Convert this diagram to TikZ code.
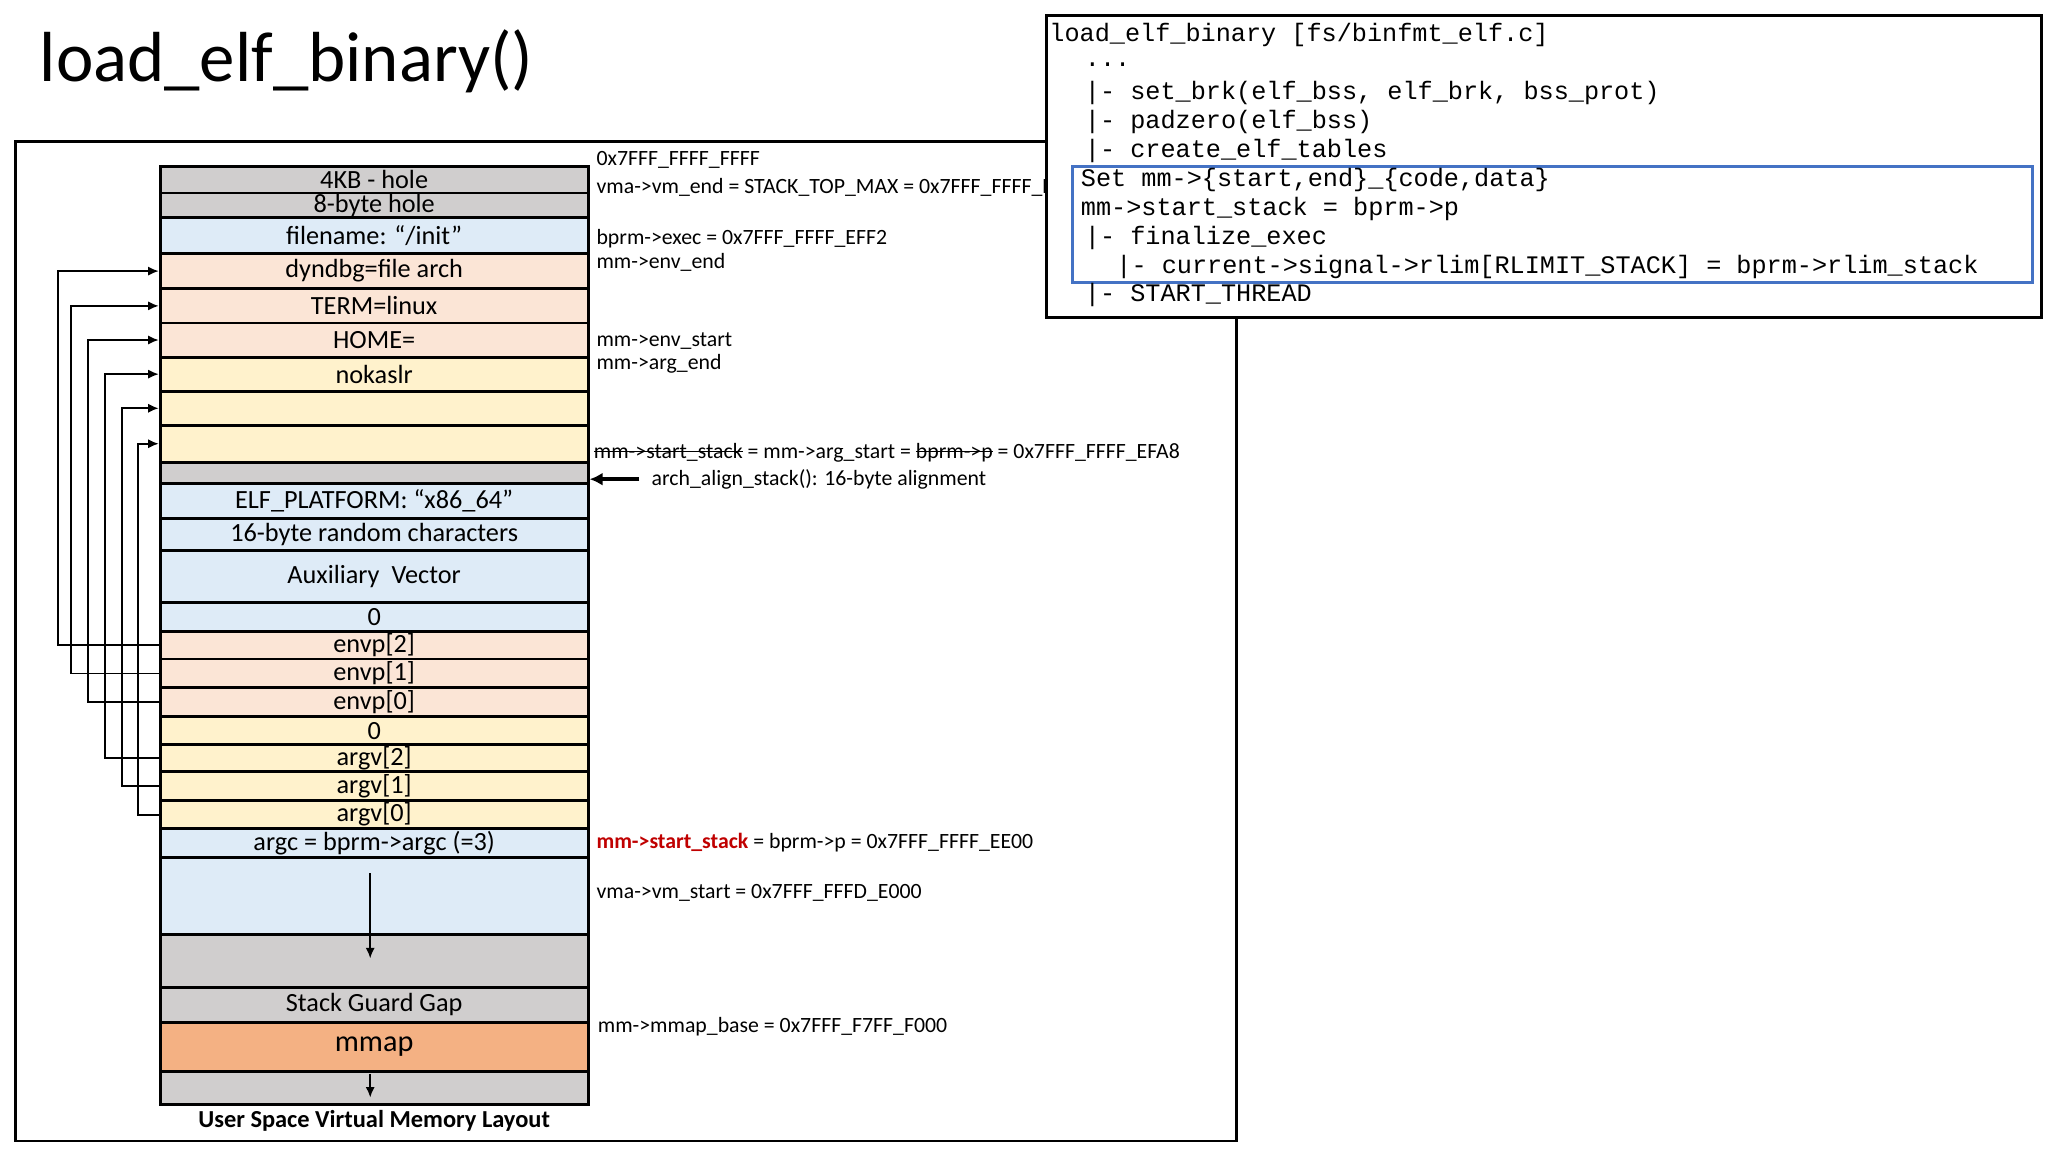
\documentclass[tikz,border=0pt]{standalone}
\usepackage{fontspec}
\setmainfont{Carlito}
\newfontfamily\codefont{Liberation Mono}
\usetikzlibrary{arrows.meta}
\newsavebox\stkbox
\newcommand\mystk[1]{\sbox\stkbox{#1}\rlap{\rule[0.3em]{\wd\stkbox}{0.6pt}}\usebox\stkbox}
\definecolor{cgray}{HTML}{D0CECE}
\definecolor{cblue}{HTML}{DEEBF7}
\definecolor{cpink}{HTML}{FBE5D6}
\definecolor{cyel}{HTML}{FFF2CC}
\definecolor{corange}{HTML}{F4B183}
\definecolor{cframe}{HTML}{4472C4}
\definecolor{cred}{HTML}{C00000}
\begin{document}
\begin{tikzpicture}[x=0.5pt,y=-0.5pt,
  row/.style={draw=black,line width=1.1pt,minimum width=163pt,inner sep=0pt,font=\fontsize{10}{12}\selectfont},
  ann/.style={anchor=west,inner sep=0pt,font=\fontsize{8.3}{10}\selectfont},
  code/.style={anchor=west,inner sep=0pt,font=\codefont\fontsize{9.6}{11}\selectfont},
  conn/.style={line width=0.7pt,-{Latex[length=4pt,width=3.5pt]}}]
\useasboundingbox (0,0) rectangle (1560,877.5);
\fill[white] (0,0) rectangle (1560,877.5);
\node[anchor=west,inner sep=0pt,font=\fontsize{27}{30}\selectfont] (title) at (30,47) {load\_elf\_binary()};
\draw[line width=1pt] (12,108) rectangle (942,869);
\foreach \i/\t/\b/\c/\txt in {
 1/127/147/cgray/4KB - hole,
 2/147/166/cgray/8-byte hole,
 3/166/193/cblue/{filename: “/init”},
 4/193/220/cpink/dyndbg=file arch/x86/mm/init.c +p,
 5/220/246/cpink/TERM=linux,
 6/246/272/cpink/HOME=/,
 7/272/298/cyel/nokaslr,
 8/298/324/cyel//init,
 9/324/352/cyel//bin/sh,
 10/352/368/cgray/{},
 11/368/395/cblue/{ELF\_PLATFORM: “x86\_64”},
 12/395/419/cblue/16-byte random characters,
 13/419/459/cblue/Auxiliary\ \ Vector,
 14/459/481/cblue/0,
 15/481/502/cpink/envp[2],
 16/502/524/cpink/envp[1],
 17/524/546/cpink/envp[0],
 18/546/567/cyel/0,
 19/567/588/cyel/argv[2],
 20/588/610/cyel/argv[1],
 21/610/631/cyel/argv[0],
 22/631/653/cblue/argc = bprm->argc (=3),
 23/653/712/cblue/{},
 24/712/752/cgray/{},
 25/752/779/cgray/Stack Guard Gap,
 26/779/816/corange/{\fontsize{11.5}{13}\selectfont mmap},
 27/816/841/cgray/{}}
{\node[row,fill=\c,minimum height={(\b-\t)*0.5pt}] (r\i) at (285,{(\t+\b)/2}) {\txt};}
\node[inner sep=0pt,font=\bfseries\fontsize{9.3}{11}\selectfont] (cap) at (285,854) {User Space Virtual Memory Layout};
\coordinate (a1) at (282,665); \coordinate (a2) at (282,730);
\draw[conn] (a1) -- (a2);
\coordinate (b1) at (282,818); \coordinate (b2) at (282,836);
\draw[conn] (b1) -- (b2);
% pointer connectors
\draw[conn] (r15.west) -- ++(-77,0) |- (r4.west);
\draw[conn] (r16.west) -- ++(-67,0) |- (r5.west);
\draw[conn] (r17.west) -- ++(-54,0) |- (r6.west);
\draw[conn] (r19.west) -- ++(-41,0) |- (r7.west);
\draw[conn] (r20.west) -- ++(-28,0) |- (r8.west);
\draw[conn] (r21.west) -- ++(-16,0) |- (r9.west);
% annotations
\node[ann] (n1) at (454,122) {0x7FFF\_FFFF\_FFFF};
\node[ann] (n2) at (454,143) {vma->vm\_end = STACK\_TOP\_MAX = 0x7FFF\_FFFF\_F000};
\node[ann] (n3) at (454,182) {bprm->exec = 0x7FFF\_FFFF\_EFF2};
\node[ann] (n4) at (454,200) {mm->env\_end};
\node[ann] (n5) at (454,260) {mm->env\_start};
\node[ann] (n6) at (454,277) {mm->arg\_end};
\node[ann] (n7) at (452,345) {\mystk{mm->start\_stack} = mm->arg\_start = \mystk{bprm->p} = 0x7FFF\_FFFF\_EFA8};
\node[ann] (n8) at (496,365) {arch\_align\_stack(): 16-byte alignment};
\draw[line width=1.4pt,-{Latex[length=5pt,width=5pt]}] (n8.west) ++(-9,0) -- (r10.east |- n8.west);
\node[ann] (n9) at (454,642) {\textcolor{cred}{\bfseries mm->start\_stack} = bprm->p = 0x7FFF\_FFFF\_EE00};
\node[ann] (n10) at (454,680) {vma->vm\_start = 0x7FFF\_FFFD\_E000};
\node[ann] (n11) at (455,782) {mm->mmap\_base = 0x7FFF\_F7FF\_F000};
% code box
\draw[line width=1pt,fill=white] (797,12) rectangle (1555,242);
\draw[cframe,line width=1.2pt] (817,127) rectangle (1548,215);
\node[code] (c1) at (799,27) {load\_elf\_binary [fs/binfmt\_elf.c]};
\node[code] (c2) at (826,49) {...};
\node[code] (c3) at (826,71) {|- set\_brk(elf\_bss, elf\_brk, bss\_prot)};
\node[code] (c4) at (826,93) {|- padzero(elf\_bss)};
\node[code] (c5) at (826,115) {|- create\_elf\_tables};
\node[code] (c6) at (823,137) {Set mm->\{start,end\}\_\{code,data\}};
\node[code] (c7) at (823,159) {mm->start\_stack = bprm->p};
\node[code] (c8) at (826,181) {|- finalize\_exec};
\node[code] (c9) at (850,203) {|- current->signal->rlim[RLIMIT\_STACK] = bprm->rlim\_stack};
\node[code] (c10) at (826,225) {|- START\_THREAD};
\end{tikzpicture}
\end{document}
